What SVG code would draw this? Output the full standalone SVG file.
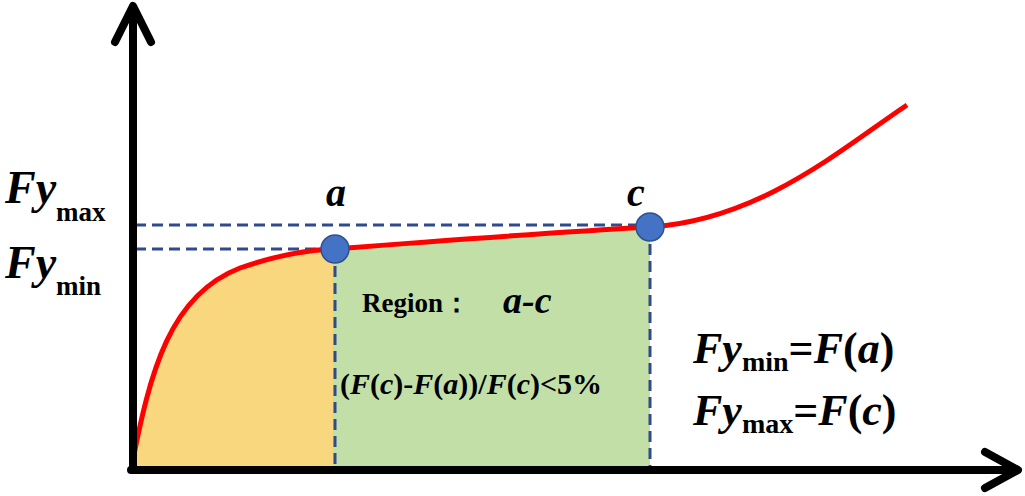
<svg xmlns="http://www.w3.org/2000/svg" width="1025" height="496" viewBox="0 0 1025 496">
<style>
.ax{stroke:#000;stroke-width:8;fill:none;stroke-linecap:round;stroke-linejoin:round}
.dash{stroke:#2F4B8C;stroke-width:3;stroke-dasharray:11 6;fill:none}
.pt{fill:#4472C4;stroke:#2F528F;stroke-width:1.5}
.t{font-family:"Liberation Serif","Times New Roman","DejaVu Serif",serif;font-weight:bold;fill:#000}
.i{font-style:italic}
</style>
<rect width="1025" height="496" fill="#fff"/>
<path d="M131,470 C150,370 170,295 240,268 C280,254 310,250 333,249 L333,470 Z" fill="#F8D77F"/>
<path d="M333,249 C450,240 560,232 650,227 L650,470 L333,470 Z" fill="#C3DFA8"/>
<g id="connectors">
<path class="dash" d="M135,225 H650 M135,249 H333 M335,249 V470 M650,227 V470"/>
<path d="M131,470 C150,370 170,295 240,268 C280,254 310,250 333,249 C450,240 560,232 650,227 C760,220 840,150 907,105" fill="none" stroke="#FF0000" stroke-width="5"/>
<path class="ax" d="M133,470 V8 M115,42 L133,6 L151,42"/>
<path class="ax" d="M131,470 H1015 M985,452 L1018,470 L985,488"/>
</g>
<g id="a"><circle class="pt" cx="335" cy="249" r="14"/></g>
<g id="c"><circle class="pt" cx="650" cy="227" r="14"/></g>
<text class="t" x="5" y="203" font-size="46"><tspan class="i">Fy</tspan><tspan font-size="27" dy="18">max</tspan></text>
<text class="t" x="5" y="278" font-size="46"><tspan class="i">Fy</tspan><tspan font-size="27" dy="17">min</tspan></text>
<text class="t i" x="326" y="206" font-size="40">a</text>
<text class="t i" x="627" y="206" font-size="40">c</text>
<text class="t" x="362" y="312" font-size="27">Region：</text>
<text class="t i" x="503" y="313" font-size="38">a-c</text>
<text class="t" x="340" y="394" font-size="30">(<tspan class="i">F</tspan>(<tspan class="i">c</tspan>)-<tspan class="i">F</tspan>(<tspan class="i">a</tspan>))/<tspan class="i">F</tspan>(<tspan class="i">c</tspan>)&lt;5%</text>
<text class="t" x="693" y="363" font-size="44"><tspan class="i">Fy</tspan><tspan font-size="28" dy="8">min</tspan><tspan dy="-8">=</tspan><tspan class="i">F</tspan>(<tspan class="i">a</tspan>)</text>
<text class="t" x="693" y="425" font-size="44"><tspan class="i">Fy</tspan><tspan font-size="28" dy="8">max</tspan><tspan dy="-8">=</tspan><tspan class="i">F</tspan>(<tspan class="i">c</tspan>)</text>
</svg>
